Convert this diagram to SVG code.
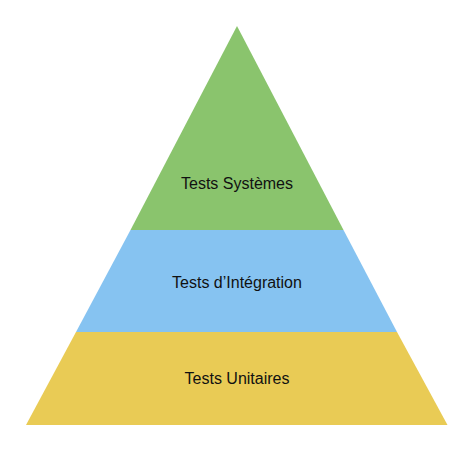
<svg xmlns="http://www.w3.org/2000/svg" width="474" height="452" viewBox="0 0 474 452">
<style>
.lbl{font-family:"Liberation Sans",Arial,sans-serif;font-size:16px;fill:#111;text-anchor:middle}
</style>
<rect width="474" height="452" fill="#fff"/>
<g id="systemes">
<polygon points="237,26 343.5,230 130.5,230" fill="#8AC46D"/>
<text class="lbl" x="237" y="189">Tests Systèmes</text>
</g>
<g id="integration">
<polygon points="130.5,230 343.5,230 397,332 76,332" fill="#86C3F1"/>
<text class="lbl" x="237" y="288">Tests d’Intégration</text>
</g>
<g id="unitaires">
<polygon points="76,332 397,332 447.5,425 26,425" fill="#E9CB55"/>
<text class="lbl" x="237" y="384">Tests Unitaires</text>
</g>
<g id="connectors"/>
</svg>
